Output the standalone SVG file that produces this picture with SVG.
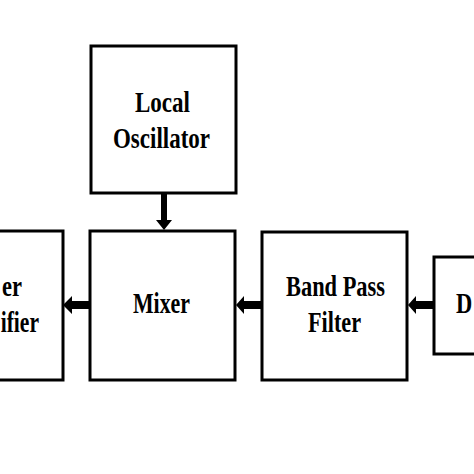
<svg xmlns="http://www.w3.org/2000/svg" width="474" height="474" viewBox="0 0 474 474">
<style>
.box{fill:#fff;stroke:#000;stroke-width:3}
.t{font-family:"Liberation Serif","Times New Roman",serif;font-weight:bold;font-size:30px;fill:#000}
.ar{fill:#000;stroke:none}
</style>
<rect x="0" y="0" width="474" height="474" fill="#fff"/>
<g id="amplifier">
<rect class="box" x="-82" y="231" width="145" height="149"/>
<text class="t" transform="translate(22,296) scale(0.75,1)" text-anchor="end">er</text>
<text class="t" transform="translate(39,332) scale(0.72,1)" text-anchor="end">ifier</text>
</g>
<g id="local-oscillator">
<rect class="box" x="91" y="46" width="145" height="147"/>
<text class="t" x="135" y="112" textLength="55" lengthAdjust="spacingAndGlyphs">Local</text>
<text class="t" x="113" y="148" textLength="97" lengthAdjust="spacingAndGlyphs">Oscillator</text>
</g>
<g id="mixer">
<rect class="box" x="90" y="231" width="145" height="149"/>
<text class="t" x="133" y="313" textLength="57" lengthAdjust="spacingAndGlyphs">Mixer</text>
</g>
<g id="band-pass-filter">
<rect class="box" x="262" y="232" width="145" height="148"/>
<text class="t" x="286" y="296" textLength="99" lengthAdjust="spacingAndGlyphs">Band Pass</text>
<text class="t" x="308" y="332" textLength="53" lengthAdjust="spacingAndGlyphs">Filter</text>
</g>
<g id="detector">
<rect class="box" x="434" y="257" width="120" height="97"/>
<text class="t" transform="translate(456,313) scale(0.75,1)">D</text>
</g>
<g id="connectors">
<path class="ar" d="M161,194 H167 V220 H172 L164,230 L156,220 H161 Z"/>
<path class="ar" d="M89,301 V309 H72 V314 L63,305 L72,296 V301 Z"/>
<path class="ar" d="M261,301 V309 H244 V314 L236,305 L244,296 V301 Z"/>
<path class="ar" d="M433,301 V309 H416 V314 L408,305 L416,296 V301 Z"/>
</g>
</svg>
